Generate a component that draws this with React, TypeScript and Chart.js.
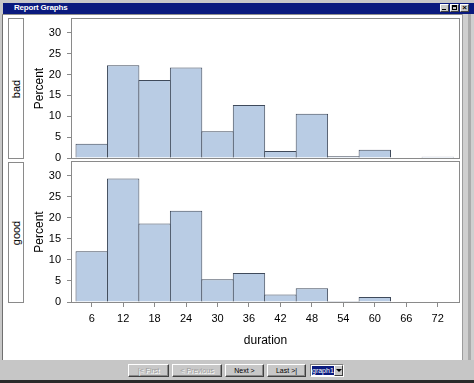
import React, { useEffect, useRef } from 'react';
import { Chart, registerables } from 'chart.js';

Chart.register(...registerables);

// ---- data ----
const durationBins = [6, 12, 18, 24, 30, 36, 42, 48, 54, 60, 66, 72];
const badPercent = [3.4, 22.2, 18.7, 21.7, 6.4, 12.7, 1.7, 10.6, 0.4, 2.0, 0, 0.3];
const goodPercent = [12.1, 29.4, 18.7, 21.7, 5.4, 6.9, 1.8, 3.3, 0.25, 1.2, 0, 0];
const xTickValues = [6, 12, 18, 24, 30, 36, 42, 48, 54, 60, 66, 72];
const yTickValues = [0, 5, 10, 15, 20, 25, 30];
const panelLabels = ['bad', 'good'];
const xAxisTitle = 'duration';
const yAxisTitle = 'Percent';
const windowTitle = 'Report Graphs';
const navButtons = ['|< First', '< Previous', 'Next >', 'Last >|'];
const graphName = 'graph1';

const X_MIN = 2.24;
const X_MAX = 76.06;
const Y_MAX = 33.3;

const FONT = "'Liberation Sans', Arial, Helvetica, sans-serif";
const FILL = '#b9cce4';
const EDGE = '#3f4a5b';
const AXIS = '#8a8a8a';

const framePlugin = {
  id: 'frame',
  afterDatasetsDraw(chart: any) {
    const { ctx, chartArea: a } = chart;
    ctx.save();
    ctx.strokeStyle = AXIS;
    ctx.lineWidth = 1;
    const l = Math.round(a.left) - 0.5;
    const t = Math.round(a.top) - 0.5;
    const r = Math.round(a.right) + 0.5;
    const b = Math.round(a.bottom) + 0.5;
    ctx.strokeRect(l, t, r - l, b - t);
    ctx.restore();
  },
};

function makeConfig(values: number[], showX: boolean): any {
  return {
    type: 'bar',
    data: {
      datasets: [
        {
          data: durationBins.map((x, i) => ({ x, y: values[i] })),
          backgroundColor: FILL,
          borderColor: EDGE,
          borderWidth: 1,
          borderSkipped: 'start',
          barPercentage: 1.03,
          categoryPercentage: 1,
        },
      ],
    },
    plugins: [framePlugin],
    options: {
      animation: false,
      responsive: false,
      maintainAspectRatio: false,
      events: [],
      layout: { padding: { left: 0, right: 5, top: 14, bottom: showX ? 0 : 14 } },
      plugins: { legend: { display: false }, tooltip: { enabled: false }, title: { display: false } },
      scales: {
        x: {
          type: 'linear',
          min: X_MIN,
          max: X_MAX,
          offset: false,
          display: showX,
          afterBuildTicks: (axis: any) => {
            axis.ticks = xTickValues.map((v) => ({ value: v }));
          },
          afterFit: (s: any) => {
            s.height = showX ? 58 : 0;
          },
          grid: { offset: false, drawOnChartArea: false, drawTicks: true, tickLength: 5, color: AXIS, lineWidth: 1 },
          border: { display: false },
          ticks: {
            autoSkip: false,
            maxRotation: 0,
            minRotation: 0,
            padding: 5,
            color: '#000',
            font: { family: FONT, size: 11 },
            callback: (v: any) => String(v),
          },
          title: {
            display: true,
            text: xAxisTitle,
            color: '#000',
            font: { family: FONT, size: 12 },
            padding: { top: 0, bottom: 12 },
          },
        },
        y: {
          type: 'linear',
          min: 0,
          max: Y_MAX,
          afterBuildTicks: (axis: any) => {
            axis.ticks = yTickValues.map((v) => ({ value: v }));
          },
          afterFit: (s: any) => {
            s.width = 48;
          },
          grid: { drawOnChartArea: false, drawTicks: true, tickLength: 5, color: AXIS, lineWidth: 1 },
          border: { display: false },
          ticks: {
            padding: 6,
            color: '#000',
            font: { family: FONT, size: 11 },
            callback: (v: any) => String(v),
          },
          title: {
            display: true,
            text: yAxisTitle,
            color: '#000',
            font: { family: FONT, size: 12 },
            padding: { top: 8, bottom: 0 },
          },
        },
      },
    },
  };
}

function Panel({ values, showX, left, top, width, height }: any) {
  const ref = useRef<HTMLCanvasElement | null>(null);
  useEffect(() => {
    if (!ref.current) return;
    const chart = new Chart(ref.current, makeConfig(values, showX));
    return () => chart.destroy();
  }, []);
  return (
    <canvas
      ref={ref}
      width={width}
      height={height}
      style={{ position: 'absolute', left, top, width, height }}
    />
  );
}

function StripLabel({ text, top }: { text: string; top: number }) {
  return (
    <div
      style={{
        position: 'absolute',
        left: 8,
        top,
        width: 16,
        height: 141,
        boxSizing: 'border-box',
        border: '1px solid #8a8a8a',
        background: '#fff',
        display: 'flex',
        alignItems: 'center',
        justifyContent: 'center',
      }}
    >
      <span
        style={{
          transform: 'rotate(-90deg)',
          whiteSpace: 'nowrap',
          font: `11px ${FONT}`,
          color: '#000',
        }}
      >
        {text}
      </span>
    </div>
  );
}

function NavButton({ left, width, text, disabled }: any) {
  return (
    <div
      style={{
        position: 'absolute',
        left,
        top: 364,
        width,
        height: 13,
        boxSizing: 'border-box',
        background: '#c8c8c8',
        borderTop: '1px solid #ffffff',
        borderLeft: '1px solid #ffffff',
        borderRight: '1px solid #404040',
        borderBottom: '1px solid #404040',
        boxShadow: 'inset -1px -1px 0 #8a8a8a',
        font: `7px ${FONT}`,
        color: disabled ? '#9c9c9c' : '#000',
        textShadow: disabled ? '1px 1px 0 #ffffff' : 'none',
        display: 'flex',
        alignItems: 'center',
        justifyContent: 'center',
        whiteSpace: 'nowrap',
        lineHeight: '11px',
      }}
    >
      {text}
    </div>
  );
}

function TitleButton({ left, kind }: { left: number; kind: string }) {
  return (
    <div
      style={{
        position: 'absolute',
        left,
        top: 4,
        width: 9,
        height: 8,
        boxSizing: 'border-box',
        background: '#c8c8c8',
        borderTop: '1px solid #fff',
        borderLeft: '1px solid #fff',
        borderRight: '1px solid #404040',
        borderBottom: '1px solid #404040',
      }}
    >
      {kind === 'min' && (
        <div style={{ position: 'absolute', left: 1, top: 4, width: 4, height: 1, background: '#000' }} />
      )}
      {kind === 'max' && (
        <div
          style={{
            position: 'absolute',
            left: 1,
            top: 0,
            width: 5,
            height: 5,
            boxSizing: 'border-box',
            border: '1px solid #000',
            borderTopWidth: 2,
          }}
        />
      )}
      {kind === 'close' && (
        <div
          style={{
            position: 'absolute',
            left: 0,
            top: -2,
            width: 7,
            textAlign: 'center',
            font: `bold 8px ${FONT}`,
            color: '#000',
            lineHeight: '10px',
          }}
        >
          ×
        </div>
      )}
    </div>
  );
}

export default function App() {
  return (
    <div
      style={{
        position: 'fixed',
        left: 0,
        top: 0,
        width: 474,
        height: 383,
        background: '#c8c8c8',
        overflow: 'hidden',
        fontFamily: FONT,
      }}
    >
      {/* title bar */}
      <div style={{ position: 'absolute', left: 3, top: 3, width: 471, height: 11, background: '#0a1a7e' }} />
      <div
        style={{
          position: 'absolute',
          left: 14,
          top: 3,
          height: 11,
          lineHeight: '11px',
          font: `bold 8px ${FONT}`,
          color: '#fff',
          whiteSpace: 'nowrap',
          letterSpacing: '-0.2px',
        }}
      >
        {windowTitle}
      </div>
      <TitleButton left={440} kind="min" />
      <TitleButton left={450} kind="max" />
      <TitleButton left={460} kind="close" />

      {/* client area */}
      <div
        style={{
          position: 'absolute',
          left: 2,
          top: 14,
          width: 460,
          height: 346,
          boxSizing: 'border-box',
          background: '#fff',
          borderLeft: '1px solid #707070',
          borderTop: '1px solid #909090',
        }}
      />
      {/* right strip */}
      <div
        style={{
          position: 'absolute',
          left: 462,
          top: 14,
          width: 12,
          height: 346,
          boxSizing: 'border-box',
          background: '#cfcfcf',
          borderLeft: '1px solid #9c9c9c',
        }}
      />
      <div style={{ position: 'absolute', left: 468, top: 14, width: 3, height: 346, background: '#ababab' }} />

      {/* bottom bar */}
      <div style={{ position: 'absolute', left: 0, top: 360, width: 474, height: 20, background: '#c6c6c6' }} />
      <div style={{ position: 'absolute', left: 0, top: 380, width: 474, height: 3, background: '#2a2a2a' }} />

      <NavButton left={128} width={41} text={navButtons[0]} disabled />
      <NavButton left={172} width={50} text={navButtons[1]} disabled />
      <NavButton left={225} width={39} text={navButtons[2]} />
      <NavButton left={267} width={39} text={navButtons[3]} />

      {/* combobox */}
      <div
        style={{
          position: 'absolute',
          left: 310,
          top: 364,
          width: 34,
          height: 13,
          boxSizing: 'border-box',
          background: '#fff',
          borderTop: '1px solid #808080',
          borderLeft: '1px solid #808080',
          borderRight: '1px solid #fff',
          borderBottom: '1px solid #fff',
        }}
      >
        <div
          style={{
            position: 'absolute',
            left: 1,
            top: 1,
            width: 22,
            height: 9,
            background: '#0a1a7e',
            color: '#fff',
            font: `7px ${FONT}`,
            lineHeight: '9px',
            whiteSpace: 'nowrap',
            overflow: 'hidden',
          }}
        >
          {graphName}
        </div>
        <div
          style={{
            position: 'absolute',
            left: 23,
            top: 0,
            width: 9,
            height: 11,
            boxSizing: 'border-box',
            background: '#c8c8c8',
            borderTop: '1px solid #fff',
            borderLeft: '1px solid #fff',
            borderRight: '1px solid #404040',
            borderBottom: '1px solid #404040',
          }}
        >
          <div
            style={{
              position: 'absolute',
              left: 1,
              top: 3,
              width: 0,
              height: 0,
              borderLeft: '3px solid transparent',
              borderRight: '3px solid transparent',
              borderTop: '3px solid #000',
            }}
          />
        </div>
      </div>

      {/* strip labels */}
      <StripLabel text={panelLabels[0]} top={18} />
      <StripLabel text={panelLabels[1]} top={162} />

      {/* panels */}
      <Panel values={badPercent} showX={false} left={24} top={5} width={440} height={167} />
      <Panel values={goodPercent} showX={true} left={24} top={148} width={440} height={212} />
    </div>
  );
}
